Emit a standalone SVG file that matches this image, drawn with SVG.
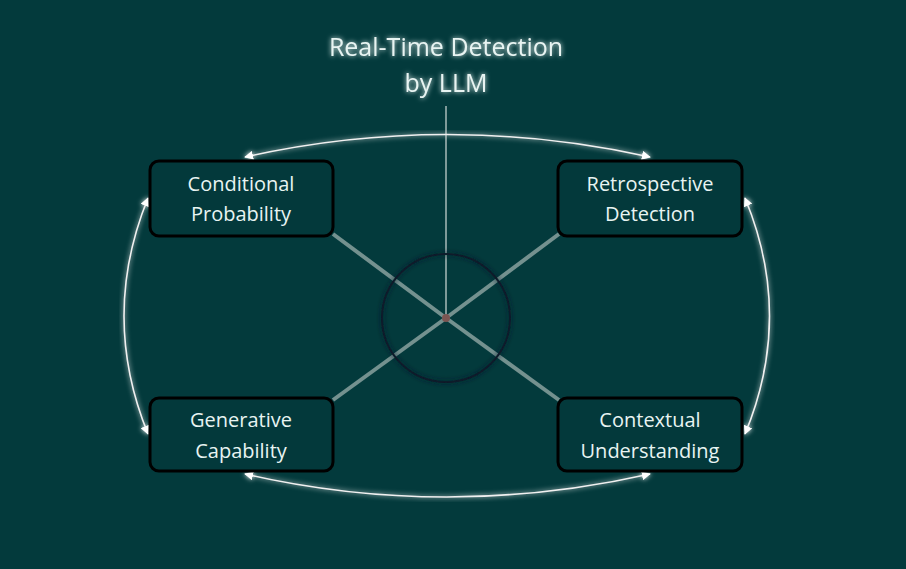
<svg xmlns="http://www.w3.org/2000/svg" width="906" height="569" viewBox="0 0 906 569">
<defs>
<filter id="glow" x="-20%" y="-20%" width="140%" height="140%"><feGaussianBlur stdDeviation="2.5" result="b"/><feMerge><feMergeNode in="b"/><feMergeNode in="SourceGraphic"/></feMerge></filter>
<marker id="ah" viewBox="0 0 10 10" refX="9" refY="5" markerWidth="9" markerHeight="9" orient="auto-start-reverse" markerUnits="userSpaceOnUse"><path d="M0,0 L10,5 L0,10 z" fill="#ffffff"/></marker>
<style>
.box{fill:#03393b;stroke:#000;stroke-width:3}
.t{font-family:"Open Sans","Noto Sans",sans-serif;font-size:20px;fill:#e8f4f2;text-anchor:middle}
.arc{fill:none;stroke:#f0f0f0;stroke-width:1.6;filter:url(#glow)}
.spoke{stroke:#9aaeab;stroke-width:4;opacity:0.75}
</style>
</defs>
<rect width="906" height="569" fill="#033a3c"/>
<g id="spokes">
<line class="spoke" x1="333" y1="234" x2="446" y2="318"/>
<line class="spoke" x1="559" y1="234" x2="446" y2="318"/>
<line class="spoke" x1="333" y1="400" x2="446" y2="318"/>
<line class="spoke" x1="559" y1="400" x2="446" y2="318"/>
<line x1="446" y1="106" x2="446" y2="318" stroke="#a8bbb8" stroke-width="1.5"/>
</g>
<g id="hub">
<circle cx="446" cy="318" r="64" fill="none" stroke="#101a2a" stroke-width="2" filter="url(#glow)"/>
<circle cx="446" cy="318" r="4" fill="#7a5552"/>
</g>
<g id="title"><text class="t" x="446" y="56" style="font-size:25px" filter="url(#glow)">Real-Time Detection</text><text class="t" x="446" y="92" style="font-size:25px" filter="url(#glow)">by LLM</text></g>
<g id="connectors">
<path class="arc" d="M245,157 Q446,112 650,157" marker-start="url(#ah)" marker-end="url(#ah)"/>
<path class="arc" d="M148,198 Q100,316 148,434" marker-start="url(#ah)" marker-end="url(#ah)"/>
<path class="arc" d="M745,198 Q794,316 745,434" marker-start="url(#ah)" marker-end="url(#ah)"/>
<path class="arc" d="M245,474 Q446,520 650,474" marker-start="url(#ah)" marker-end="url(#ah)"/>
</g>
<g id="cp"><rect class="box" x="150" y="161" width="183" height="75" rx="9"/><text class="t" x="241" y="191">Conditional</text><text class="t" x="241" y="221">Probability</text></g>
<g id="rd"><rect class="box" x="558" y="161" width="184" height="75" rx="9"/><text class="t" x="650" y="191">Retrospective</text><text class="t" x="650" y="221">Detection</text></g>
<g id="gc"><rect class="box" x="150" y="398" width="183" height="73" rx="9"/><text class="t" x="241" y="427">Generative</text><text class="t" x="241" y="458">Capability</text></g>
<g id="cu"><rect class="box" x="558" y="398" width="184" height="73" rx="9"/><text class="t" x="650" y="427">Contextual</text><text class="t" x="650" y="458">Understanding</text></g>
</svg>
